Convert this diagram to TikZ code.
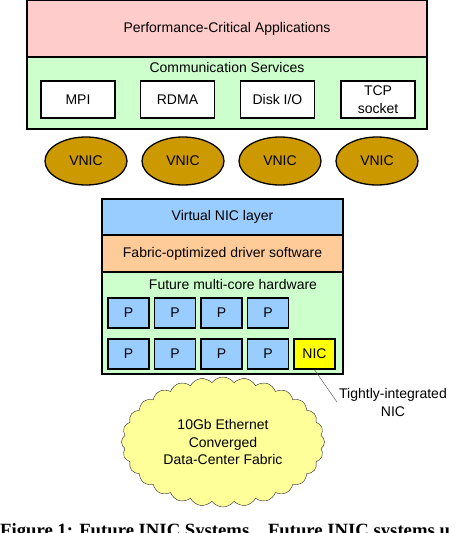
\documentclass[tikz,border=0pt]{standalone}
\usepackage{fontspec}
\setmainfont{Liberation Sans}
\newfontfamily\captionserif{Liberation Serif}
\usetikzlibrary{positioning,shapes.geometric,shapes.symbols}
\definecolor{appspink}{HTML}{FFCCCC}
\definecolor{commgreen}{HTML}{CCFFCC}
\definecolor{vnicgold}{HTML}{CC9900}
\definecolor{layerblue}{HTML}{99CCFF}
\definecolor{driverorange}{HTML}{FFCC99}
\definecolor{nicyellow}{HTML}{FFFF00}
\definecolor{cloudyellow}{HTML}{FFFF99}
\begin{document}
\begin{tikzpicture}[x=1pt,y=-1pt,
			box/.style={draw,line width=1.6pt,inner sep=0pt,align=center},
			pbox/.style={box,fill=layerblue,minimum width=41pt,minimum height=30pt},
			vnic/.style={ellipse,draw,line width=1.3pt,fill=vnicgold,inner sep=0pt,
							minimum width=82pt,minimum height=48pt},
			font=\fontsize{14}{18}\selectfont]
			\useasboundingbox (0,0) rectangle (474,533);
			\node[box,fill=appspink,minimum width=400pt,minimum height=57pt] (apps) at (227,29) {Performance-Critical Applications};
			\node[box,fill=commgreen,minimum width=400pt,minimum height=72pt] (comm) at (227,93) {};
			\node (commtitle) at (227,67) {Communication Services};
			\foreach \x/\name/\txt in {78/mpi/MPI,177.5/rdma/RDMA,277.5/disk/{Disk I/O},378/tcp/{TCP\\socket}}
				\node[box,fill=white,minimum width=74pt,minimum height=37pt] (\name) at (\x,99.5) {\txt};
			\foreach \x [count=\i] in {86,183,280,377}
				\node[vnic] (vnic\i) at (\x,161) {VNIC};
			\node[box,fill=layerblue,minimum width=241pt,minimum height=36pt] (vlayer) at (222.5,217) {Virtual NIC layer};
			\node[box,fill=driverorange,minimum width=241pt,minimum height=37pt] (driver) at (222.5,253.5) {Fabric-optimized driver software};
			\node[box,fill=commgreen,minimum width=241pt,minimum height=102pt] (hw) at (222.5,323) {};
			\node (hwtitle) at (233,284) {Future multi-core hardware};
			\foreach \x [count=\i] in {128.5,175,221.5,268} {
				\node[pbox] (ptop\i) at (\x,313) {P};
				\node[pbox] (pbot\i) at (\x,354) {P};
			}
			\node[pbox,fill=nicyellow] (nic) at (314.5,354) {NIC};
			\node[align=center,inner sep=2pt] (tight) at (393,402) {Tightly-integrated\\NIC};
			\draw[gray!60!black,thin] (nic.south) -- (tight.west);
			\node[cloud,draw,gray!30!black,thin,fill=cloudyellow,cloud puffs=28,cloud puff arc=110,
				aspect=1.56,minimum width=203pt,minimum height=130pt,inner sep=0pt,
				align=center,text=black,font=\fontsize{14}{17.5}\selectfont] (fabric) at (223,442)
				{10Gb Ethernet\\Converged\\Data-Center Fabric};
			\node[anchor=base west,inner sep=0pt,
				font=\captionserif\bfseries\fontsize{18.7}{20}\selectfont] (caption) at (0,536)
				{Figure 1: Future INIC Systems.\hspace{14pt}Future INIC systems u};
		\end{tikzpicture}
\end{document}
